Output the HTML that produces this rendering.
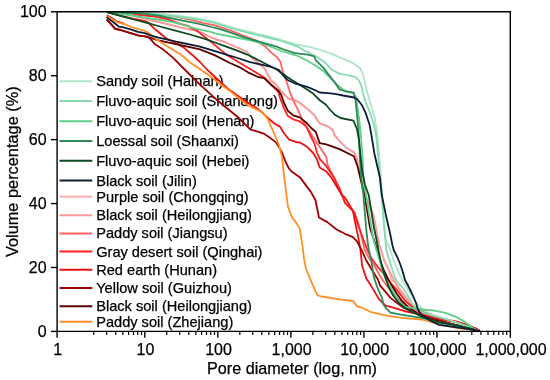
<!DOCTYPE html>
<html><head><meta charset="utf-8"><title>Pore size distribution</title><style>
html,body{margin:0;padding:0;background:#fff;width:550px;height:380px;overflow:hidden}
svg{display:block}
.t{font-family:"Liberation Sans",Arial,Helvetica,sans-serif;fill:#000;stroke:#000;stroke-width:0.25px}
</style></head><body><svg width="550" height="380" viewBox="0 0 550 380"><line x1="59.5" y1="81.3" x2="92.3" y2="81.3" stroke="#aee5c8" stroke-width="2"/><text class="t" x="96.2" y="86.3" font-size="14.6">Sandy soil (Hainan)</text><line x1="59.5" y1="101.1" x2="92.3" y2="101.1" stroke="#86dbb0" stroke-width="2"/><text class="t" x="96.2" y="106.1" font-size="14.6">Fluvo-aquic soil (Shandong)</text><line x1="59.5" y1="121.2" x2="92.3" y2="121.2" stroke="#5fcf8a" stroke-width="2"/><text class="t" x="96.2" y="126.2" font-size="14.6">Fluvo-aquic soil (Henan)</text><line x1="59.5" y1="140.9" x2="92.3" y2="140.9" stroke="#2e8b57" stroke-width="2"/><text class="t" x="96.2" y="145.9" font-size="14.6">Loessal soil (Shaanxi)</text><line x1="59.5" y1="160.7" x2="92.3" y2="160.7" stroke="#0b4a24" stroke-width="2"/><text class="t" x="96.2" y="165.7" font-size="14.6">Fluvo-aquic soil (Hebei)</text><line x1="59.5" y1="180.5" x2="92.3" y2="180.5" stroke="#0c1f38" stroke-width="2"/><text class="t" x="96.2" y="185.5" font-size="14.6">Black soil (Jilin)</text><line x1="59.5" y1="196.7" x2="92.3" y2="196.7" stroke="#ffadad" stroke-width="2"/><text class="t" x="96.2" y="201.7" font-size="14.6">Purple soil (Chongqing)</text><line x1="59.5" y1="215.2" x2="92.3" y2="215.2" stroke="#ff9a9a" stroke-width="2"/><text class="t" x="96.2" y="220.2" font-size="14.6">Black soil (Heilongjiang)</text><line x1="59.5" y1="233.4" x2="92.3" y2="233.4" stroke="#ff6464" stroke-width="2"/><text class="t" x="96.2" y="238.4" font-size="14.6">Paddy soil (Jiangsu)</text><line x1="59.5" y1="251.6" x2="92.3" y2="251.6" stroke="#ff2020" stroke-width="2"/><text class="t" x="96.2" y="256.6" font-size="14.6">Gray desert soil (Qinghai)</text><line x1="59.5" y1="269.7" x2="92.3" y2="269.7" stroke="#ee1111" stroke-width="2"/><text class="t" x="96.2" y="274.7" font-size="14.6">Red earth (Hunan)</text><line x1="59.5" y1="288.0" x2="92.3" y2="288.0" stroke="#a00000" stroke-width="2"/><text class="t" x="96.2" y="293.0" font-size="14.6">Yellow soil (Guizhou)</text><line x1="59.5" y1="306.3" x2="92.3" y2="306.3" stroke="#5c0000" stroke-width="2"/><text class="t" x="96.2" y="311.3" font-size="14.6">Black soil (Heilongjiang)</text><line x1="59.5" y1="321.8" x2="92.3" y2="321.8" stroke="#ff8f26" stroke-width="2"/><text class="t" x="96.2" y="326.8" font-size="14.6">Paddy soil (Zhejiang)</text><polyline points="122.0,12.2 140.0,17.3 158.2,21.8 176.4,26.4 180.0,27.4 195.8,30.6 203.7,33.7 211.6,37.7 215.0,39.1 225.5,42.2 236.0,47.0 246.6,51.7 253.0,58.8 262.2,66.2 265.0,69.0 268.7,76.3 270.5,80.0 275.0,83.5 282.9,93.2 288.2,98.4 297.4,101.1 304.0,106.3 310.5,111.6 314.5,115.5 319.7,123.4 327.6,126.1 332.9,130.0 334.2,134.6 339.5,141.2 346.1,147.7 353.9,152.3 356.6,157.0 360.0,175.0 365.0,195.0 373.3,214.7 376.6,231.8 379.2,245.0 381.1,250.0 384.2,260.5 388.4,268.9 391.6,280.0 395.8,283.2 401.0,290.5 407.4,298.9 413.7,306.3 422.0,311.0 440.0,317.5 460.0,323.5 479.0,331.0" fill="none" stroke="#ffadad" stroke-width="1.8" stroke-linejoin="round"/><polyline points="122.0,12.2 140.0,17.3 158.2,21.8 176.4,26.4 180.0,27.4 195.8,30.6 203.7,33.7 211.6,37.7 215.0,39.1 225.5,42.2 236.0,47.0 246.6,51.7 253.0,58.8 262.2,66.2 265.0,69.0 268.7,76.3 270.5,80.0 275.0,83.5 282.9,93.2 288.2,98.4 297.4,101.1 304.0,106.3 310.5,111.6 314.5,115.5 319.7,123.4 327.6,126.1 332.9,130.0 334.2,134.6 339.5,141.2 346.1,147.7 353.9,152.3 356.6,157.0 360.0,175.0 365.0,195.0 373.3,214.7 376.6,231.8 379.2,245.0 381.1,250.0 384.2,260.5 388.4,268.9 393.7,279.5 397.9,287.9 404.0,296.0 410.0,303.0 418.0,309.0 430.0,314.5 445.0,319.0 460.0,323.5 479.0,331.0" fill="none" stroke="#ff9a9a" stroke-width="1.8" stroke-linejoin="round"/><polyline points="120.0,11.9 149.0,13.2 167.3,15.0 180.0,17.6 191.8,19.9 203.7,23.1 215.0,25.4 230.8,30.6 241.3,34.8 248.7,37.5 257.1,40.8 262.4,44.7 265.5,46.8 270.8,52.1 277.1,57.4 280.3,61.6 282.4,70.0 284.7,76.3 287.9,85.7 291.0,95.2 294.5,102.9 298.4,110.8 302.4,120.0 307.2,128.0 313.2,137.2 318.4,145.1 323.7,153.0 326.3,156.9 327.6,164.8 330.3,170.1 334.2,178.0 340.0,190.0 345.0,202.9 354.2,212.1 358.0,222.0 361.0,234.0 364.7,250.0 369.0,258.0 374.0,265.0 378.9,274.2 384.0,282.0 390.0,290.0 396.0,297.0 404.0,304.0 412.0,309.0 422.0,313.0 432.7,316.6 445.5,319.8 458.2,322.4 468.4,325.5 474.7,328.1 479.8,331.0" fill="none" stroke="#ff6464" stroke-width="1.8" stroke-linejoin="round"/><polyline points="116.0,11.9 130.0,13.2 140.0,15.0 153.6,16.4 167.3,19.1 180.0,23.9 187.9,25.8 191.8,28.2 195.8,29.8 199.7,32.9 203.7,36.1 207.6,39.2 211.6,42.4 220.3,49.6 227.6,55.5 231.8,57.9 239.2,62.5 248.4,68.0 257.6,73.5 265.0,78.1 272.1,85.7 278.4,92.0 280.0,97.6 284.0,108.2 287.9,116.1 293.2,119.3 299.7,121.3 306.3,126.6 308.5,131.0 310.5,135.9 314.5,143.8 317.1,153.0 319.7,158.9 326.3,166.2 334.2,178.0 340.0,190.0 345.0,202.9 354.2,212.1 358.0,225.0 362.1,236.0 367.4,250.0 371.6,258.4 376.8,265.8 383.2,273.2 389.5,281.6 393.7,286.3 398.9,292.6 405.3,301.0 411.6,306.3 422.1,311.6 432.7,315.5 445.5,319.3 458.2,322.0 468.4,325.0 474.7,328.0 479.8,330.5" fill="none" stroke="#ff2020" stroke-width="1.8" stroke-linejoin="round"/><polyline points="108.0,12.5 132.7,18.7 140.5,20.2 145.9,21.4 148.6,22.7 151.4,25.9 155.0,29.1 158.2,31.8 162.7,35.5 167.3,39.1 175.5,42.7 183.2,47.1 192.0,54.7 200.0,62.0 207.4,70.0 227.6,88.4 246.3,101.8 257.6,108.7 263.0,113.3 268.2,118.3 274.7,123.7 280.0,126.6 284.0,133.2 289.2,139.7 297.1,142.4 300.0,142.5 306.6,146.4 313.2,153.0 317.1,159.6 319.7,167.5 326.3,171.4 331.6,178.0 341.8,195.0 345.0,197.6 352.9,210.8 355.5,224.0 358.2,237.1 360.5,250.0 362.1,265.8 366.3,278.4 370.1,284.3 374.5,291.6 378.8,298.8 385.3,305.3 395.8,308.4 406.3,311.6 416.8,313.7 430.0,316.3 445.5,319.8 458.2,322.4 468.4,325.5 474.7,328.1 480.0,331.0" fill="none" stroke="#ee1111" stroke-width="1.8" stroke-linejoin="round"/><polyline points="106.8,19.4 115.3,28.9 120.4,30.0 131.5,33.4 138.0,35.3 144.8,36.3 149.6,37.7 158.5,40.4 170.0,42.8 188.6,46.8 200.0,49.4 215.0,55.4 230.0,63.0 239.2,67.1 248.4,72.6 257.6,76.8 264.1,78.2 270.5,84.2 278.4,90.5 281.3,95.0 284.0,102.9 287.9,110.8 293.2,115.4 299.7,117.4 306.3,122.6 311.2,128.0 315.8,132.0 319.7,143.1 326.3,144.4 339.5,149.1 353.9,156.3 357.9,167.5 360.7,179.7 363.4,190.8 364.7,195.0 366.7,208.2 370.0,227.9 374.0,240.0 377.4,250.0 380.0,260.5 383.2,268.9 387.4,277.4 391.6,285.3 396.8,293.7 402.1,301.0 408.4,307.4 414.7,311.6 420.0,314.7 430.0,318.5 445.0,322.0 460.0,326.0 479.0,331.0" fill="none" stroke="#5c0000" stroke-width="1.8" stroke-linejoin="round"/><polyline points="106.8,19.4 115.3,28.9 120.4,30.0 131.5,33.4 138.0,35.3 144.8,36.3 148.3,37.2 151.7,40.4 154.4,43.8 158.5,46.6 163.3,49.6 173.7,58.4 183.6,68.5 200.0,84.7 218.4,101.3 236.8,116.3 239.2,118.4 250.3,129.3 256.0,131.2 263.1,133.3 268.2,136.5 276.0,142.4 281.6,151.6 285.2,160.8 288.9,168.5 292.0,171.8 300.0,177.4 311.0,192.1 315.4,200.0 319.0,217.5 327.3,222.1 336.6,229.5 345.0,233.8 352.9,237.1 356.8,241.1 361.6,250.0 366.3,260.5 372.6,271.0 377.9,279.5 380.0,285.3 385.3,291.6 390.5,297.9 395.8,302.1 403.2,307.4 411.6,311.6 420.0,314.7 430.0,318.0 445.0,322.0 460.0,326.0 479.0,331.0" fill="none" stroke="#a00000" stroke-width="1.8" stroke-linejoin="round"/><polyline points="106.8,15.2 112,18.3 117.2,21.7 124.1,23.6" fill="none" stroke="#c00000" stroke-width="1.8" stroke-linejoin="round"/><polyline points="106.8,16.0 117.5,22.3 124.1,23.8 131.5,27.0 138.0,29.1 144.8,30.8 149.6,33.6 155.1,38.4 161.9,43.1 170.0,47.9 174.4,50.8 182.9,56.0 190.0,62.6 200.5,69.5 211.0,76.8 221.6,85.3 230.0,91.0 236.8,96.8 246.3,104.0 251.6,107.2 262.6,112.4 268.1,119.7 273.7,132.6 276.0,138.0 279.2,146.0 282.0,157.1 284.7,181.0 287.1,200.0 287.9,206.3 290.3,213.4 292.6,218.2 295.8,222.1 299.7,228.4 302.5,246.0 304.2,260.0 305.8,267.9 309.7,277.8 314.7,289.6 317.6,295.5 321.6,296.5 339.3,299.4 353.1,301.0 357.1,306.4 361.0,307.3 370.1,311.8 380.0,314.2 390.5,316.3 406.3,318.4 422.1,319.5 439.1,324.3 458.2,328.1 476.0,330.5" fill="none" stroke="#ff8f26" stroke-width="1.8" stroke-linejoin="round"/><polyline points="110.0,11.8 140.0,12.5 166.8,14.4 180.0,16.0 199.7,18.7 215.0,22.2 236.0,28.5 257.1,33.8 265.0,35.4 281.5,40.0 297.3,44.7 309.5,46.8 320.5,50.0 331.5,53.9 342.6,58.7 353.6,63.4 360.0,68.1 363.0,74.4 365.5,85.0 367.5,92.9 370.8,104.7 374.7,117.9 377.4,135.0 378.6,148.4 380.9,176.0 382.4,201.6 383.8,221.3 385.8,240.0 390.5,250.0 393.7,260.5 397.9,271.0 403.2,282.0 408.4,290.0 413.0,298.0 418.0,305.0 425.0,311.0 435.0,315.5 448.0,319.5 462.0,324.5 472.0,328.5 479.0,331.0" fill="none" stroke="#aee5c8" stroke-width="1.8" stroke-linejoin="round"/><polyline points="112.0,12.0 140.0,13.2 166.8,15.4 180.0,17.0 199.7,19.7 215.0,23.2 236.0,29.6 265.0,37.0 278.4,40.0 297.3,46.3 304.7,50.8 315.8,56.3 325.2,62.6 331.5,69.7 339.4,73.6 347.3,75.2 355.2,76.8 359.1,80.7 361.0,85.0 362.9,92.9 365.5,102.1 369.5,111.3 373.4,123.2 376.1,135.0 378.0,155.0 380.0,180.0 382.4,204.0 384.0,225.0 386.3,250.0 389.5,260.5 392.6,271.0 396.8,281.6 403.2,288.4 408.4,296.8 412.6,304.2 418.0,310.0 428.0,314.5 445.0,319.0 460.0,323.5 472.0,328.0 479.0,331.0" fill="none" stroke="#86dbb0" stroke-width="1.8" stroke-linejoin="round"/><polyline points="110.0,12.6 125.0,14.5 143.2,17.3 161.4,20.0 175.0,22.7 180.0,24.0 195.8,28.6 211.6,32.1 215.0,33.3 236.0,37.5 251.8,40.6 265.0,44.3 281.5,51.0 297.3,55.8 307.9,61.0 315.8,65.8 323.7,71.3 331.5,79.2 337.9,85.5 345.0,91.0 354.0,93.5 356.3,98.2 359.0,117.9 360.9,135.0 362.0,150.0 363.0,165.0 363.5,180.0 366.0,195.0 369.3,214.7 372.6,234.5 373.7,240.5 376.8,251.0 380.0,261.6 382.1,270.0 386.0,280.0 390.8,288.0 395.5,295.5 400.3,303.0 405.0,306.8 411.6,307.9 422.1,309.5 432.7,310.3 445.5,312.8 455.6,316.6 464.5,321.7 470.9,326.2 474.7,329.4 477.0,331.4" fill="none" stroke="#5fcf8a" stroke-width="1.8" stroke-linejoin="round"/><polyline points="108.0,12.0 140.0,13.3 158.2,15.5 176.4,19.3 195.8,23.1 211.6,27.0 220.0,29.2 230.8,32.7 241.3,36.4 251.8,39.6 265.0,43.3 276.0,46.3 282.4,49.0 295.0,53.2 307.9,54.7 314.2,56.3 315.8,60.2 323.7,68.1 328.4,74.4 334.7,82.3 339.4,89.4 344.2,91.0 353.6,92.6 355.5,100.0 357.0,115.0 358.5,130.0 360.0,160.0 361.5,180.0 363.4,195.0 364.7,210.8 366.1,227.9 368.0,245.0 368.9,250.0 371.6,262.6 373.7,276.3 376.8,286.0 380.0,293.7 382.1,297.9 383.2,304.2 386.3,308.4 390.5,312.6 401.0,314.7 411.6,316.3 422.1,317.9 439.1,322.4 458.2,325.5 473.5,329.4 478.0,331.4" fill="none" stroke="#2e8b57" stroke-width="1.8" stroke-linejoin="round"/><polyline points="106.5,12.1 125.0,17.2 134.1,19.5 145.0,22.3 160.0,26.5 176.4,30.9 190.0,34.5 205.0,38.9 215.0,42.5 225.5,46.4 236.0,50.1 246.6,54.3 255.0,58.4 265.5,63.7 276.0,69.0 281.5,73.1 291.0,79.4 303.6,87.3 313.1,93.6 319.5,100.0 326.0,104.7 330.3,110.0 335.0,114.9 340.5,118.0 353.4,120.6 357.0,129.0 359.0,140.0 362.0,170.0 365.0,185.0 368.7,195.0 371.3,210.8 374.0,227.9 376.6,240.0 378.4,250.0 381.1,262.6 384.2,274.2 386.3,280.0 388.4,286.3 392.6,294.7 397.9,302.1 404.2,307.4 411.6,311.6 420.0,315.8 430.0,319.0 439.1,322.4 458.2,325.5 473.5,329.4 478.0,331.4" fill="none" stroke="#0b4a24" stroke-width="1.8" stroke-linejoin="round"/><polyline points="106.5,17.1 113.1,22.0 119.0,26.7 122.6,27.1 131.5,29.7 138.0,31.9 144.8,33.2 150.3,35.3 158.5,37.7 170.0,40.1 177.7,42.0 200.0,46.6 215.0,51.2 225.5,54.3 236.0,57.5 250.0,62.1 265.8,65.6 270.0,66.5 279.0,70.0 282.0,74.0 285.0,77.5 288.0,80.2 294.7,83.3 307.9,87.2 315.8,90.5 319.7,92.5 327.6,93.2 335.0,93.8 343.2,95.5 354.3,97.5 357.6,99.5 361.6,104.7 365.5,112.6 369.5,124.5 371.4,135.0 374.5,154.0 380.0,178.0 381.8,195.0 385.8,214.7 389.7,231.8 392.4,245.0 393.7,250.0 397.5,257.5 400.5,265.0 402.8,272.0 405.0,280.0 408.4,286.3 411.5,292.5 414.0,298.0 416.0,303.0 418.0,309.5 421.1,314.7 424.2,316.8 430.2,320.5 439.1,324.9 458.2,327.5 470.9,329.4 480.0,331.2" fill="none" stroke="#0c1f38" stroke-width="1.8" stroke-linejoin="round"/><path d="M57.1,337.79999999999995V11.8H510.3V331.4H57.1" fill="none" stroke="#000" stroke-width="1.4"/><line x1="50.9" y1="331.40" x2="57.1" y2="331.40" stroke="#000" stroke-width="1.4"/><line x1="50.9" y1="267.48" x2="57.1" y2="267.48" stroke="#000" stroke-width="1.4"/><line x1="50.9" y1="203.56" x2="57.1" y2="203.56" stroke="#000" stroke-width="1.4"/><line x1="50.9" y1="139.64" x2="57.1" y2="139.64" stroke="#000" stroke-width="1.4"/><line x1="50.9" y1="75.72" x2="57.1" y2="75.72" stroke="#000" stroke-width="1.4"/><line x1="50.9" y1="11.80" x2="57.1" y2="11.80" stroke="#000" stroke-width="1.4"/><line x1="144.80" y1="331.4" x2="144.80" y2="337.79999999999995" stroke="#000" stroke-width="1.4"/><line x1="217.84" y1="331.4" x2="217.84" y2="337.79999999999995" stroke="#000" stroke-width="1.4"/><line x1="290.88" y1="331.4" x2="290.88" y2="337.79999999999995" stroke="#000" stroke-width="1.4"/><line x1="363.92" y1="331.4" x2="363.92" y2="337.79999999999995" stroke="#000" stroke-width="1.4"/><line x1="436.96" y1="331.4" x2="436.96" y2="337.79999999999995" stroke="#000" stroke-width="1.4"/><line x1="510.30" y1="331.4" x2="510.30" y2="337.79999999999995" stroke="#000" stroke-width="1.4"/><line x1="93.75" y1="331.4" x2="93.75" y2="335.0" stroke="#000" stroke-width="1.2"/><line x1="106.61" y1="331.4" x2="106.61" y2="335.0" stroke="#000" stroke-width="1.2"/><line x1="115.73" y1="331.4" x2="115.73" y2="335.0" stroke="#000" stroke-width="1.2"/><line x1="122.81" y1="331.4" x2="122.81" y2="335.0" stroke="#000" stroke-width="1.2"/><line x1="128.60" y1="331.4" x2="128.60" y2="335.0" stroke="#000" stroke-width="1.2"/><line x1="133.49" y1="331.4" x2="133.49" y2="335.0" stroke="#000" stroke-width="1.2"/><line x1="137.72" y1="331.4" x2="137.72" y2="335.0" stroke="#000" stroke-width="1.2"/><line x1="141.46" y1="331.4" x2="141.46" y2="335.0" stroke="#000" stroke-width="1.2"/><line x1="166.79" y1="331.4" x2="166.79" y2="335.0" stroke="#000" stroke-width="1.2"/><line x1="179.65" y1="331.4" x2="179.65" y2="335.0" stroke="#000" stroke-width="1.2"/><line x1="188.77" y1="331.4" x2="188.77" y2="335.0" stroke="#000" stroke-width="1.2"/><line x1="195.85" y1="331.4" x2="195.85" y2="335.0" stroke="#000" stroke-width="1.2"/><line x1="201.64" y1="331.4" x2="201.64" y2="335.0" stroke="#000" stroke-width="1.2"/><line x1="206.53" y1="331.4" x2="206.53" y2="335.0" stroke="#000" stroke-width="1.2"/><line x1="210.76" y1="331.4" x2="210.76" y2="335.0" stroke="#000" stroke-width="1.2"/><line x1="214.50" y1="331.4" x2="214.50" y2="335.0" stroke="#000" stroke-width="1.2"/><line x1="239.83" y1="331.4" x2="239.83" y2="335.0" stroke="#000" stroke-width="1.2"/><line x1="252.69" y1="331.4" x2="252.69" y2="335.0" stroke="#000" stroke-width="1.2"/><line x1="261.81" y1="331.4" x2="261.81" y2="335.0" stroke="#000" stroke-width="1.2"/><line x1="268.89" y1="331.4" x2="268.89" y2="335.0" stroke="#000" stroke-width="1.2"/><line x1="274.68" y1="331.4" x2="274.68" y2="335.0" stroke="#000" stroke-width="1.2"/><line x1="279.57" y1="331.4" x2="279.57" y2="335.0" stroke="#000" stroke-width="1.2"/><line x1="283.80" y1="331.4" x2="283.80" y2="335.0" stroke="#000" stroke-width="1.2"/><line x1="287.54" y1="331.4" x2="287.54" y2="335.0" stroke="#000" stroke-width="1.2"/><line x1="312.87" y1="331.4" x2="312.87" y2="335.0" stroke="#000" stroke-width="1.2"/><line x1="325.73" y1="331.4" x2="325.73" y2="335.0" stroke="#000" stroke-width="1.2"/><line x1="334.85" y1="331.4" x2="334.85" y2="335.0" stroke="#000" stroke-width="1.2"/><line x1="341.93" y1="331.4" x2="341.93" y2="335.0" stroke="#000" stroke-width="1.2"/><line x1="347.72" y1="331.4" x2="347.72" y2="335.0" stroke="#000" stroke-width="1.2"/><line x1="352.61" y1="331.4" x2="352.61" y2="335.0" stroke="#000" stroke-width="1.2"/><line x1="356.84" y1="331.4" x2="356.84" y2="335.0" stroke="#000" stroke-width="1.2"/><line x1="360.58" y1="331.4" x2="360.58" y2="335.0" stroke="#000" stroke-width="1.2"/><line x1="385.91" y1="331.4" x2="385.91" y2="335.0" stroke="#000" stroke-width="1.2"/><line x1="398.77" y1="331.4" x2="398.77" y2="335.0" stroke="#000" stroke-width="1.2"/><line x1="407.89" y1="331.4" x2="407.89" y2="335.0" stroke="#000" stroke-width="1.2"/><line x1="414.97" y1="331.4" x2="414.97" y2="335.0" stroke="#000" stroke-width="1.2"/><line x1="420.76" y1="331.4" x2="420.76" y2="335.0" stroke="#000" stroke-width="1.2"/><line x1="425.65" y1="331.4" x2="425.65" y2="335.0" stroke="#000" stroke-width="1.2"/><line x1="429.88" y1="331.4" x2="429.88" y2="335.0" stroke="#000" stroke-width="1.2"/><line x1="433.62" y1="331.4" x2="433.62" y2="335.0" stroke="#000" stroke-width="1.2"/><line x1="458.95" y1="331.4" x2="458.95" y2="335.0" stroke="#000" stroke-width="1.2"/><line x1="471.81" y1="331.4" x2="471.81" y2="335.0" stroke="#000" stroke-width="1.2"/><line x1="480.93" y1="331.4" x2="480.93" y2="335.0" stroke="#000" stroke-width="1.2"/><line x1="488.01" y1="331.4" x2="488.01" y2="335.0" stroke="#000" stroke-width="1.2"/><line x1="493.80" y1="331.4" x2="493.80" y2="335.0" stroke="#000" stroke-width="1.2"/><line x1="498.69" y1="331.4" x2="498.69" y2="335.0" stroke="#000" stroke-width="1.2"/><line x1="502.92" y1="331.4" x2="502.92" y2="335.0" stroke="#000" stroke-width="1.2"/><line x1="506.66" y1="331.4" x2="506.66" y2="335.0" stroke="#000" stroke-width="1.2"/><text class="t" x="46.6" y="336.5" font-size="16" text-anchor="end">0</text><text class="t" x="46.6" y="272.6" font-size="16" text-anchor="end">20</text><text class="t" x="46.6" y="208.7" font-size="16" text-anchor="end">40</text><text class="t" x="46.6" y="144.7" font-size="16" text-anchor="end">60</text><text class="t" x="46.6" y="80.8" font-size="16" text-anchor="end">80</text><text class="t" x="46.6" y="16.9" font-size="16" text-anchor="end">100</text><text class="t" x="57.80" y="354.6" font-size="16" text-anchor="middle">1</text><text class="t" x="145.50" y="354.6" font-size="16" text-anchor="middle">10</text><text class="t" x="218.54" y="354.6" font-size="16" text-anchor="middle">100</text><text class="t" x="291.58" y="354.6" font-size="16" text-anchor="middle">1,000</text><text class="t" x="364.62" y="354.6" font-size="16" text-anchor="middle">10,000</text><text class="t" x="437.66" y="354.6" font-size="16" text-anchor="middle">100,000</text><text class="t" x="511.00" y="354.6" font-size="16" text-anchor="middle">1,000,000</text><text class="t" x="292" y="373.8" font-size="16.2" text-anchor="middle">Pore diameter (log, nm)</text><text class="t" transform="translate(17.6,171.7) rotate(-90)" font-size="16.35" text-anchor="middle">Volume percentage (%)</text></svg></body></html>
